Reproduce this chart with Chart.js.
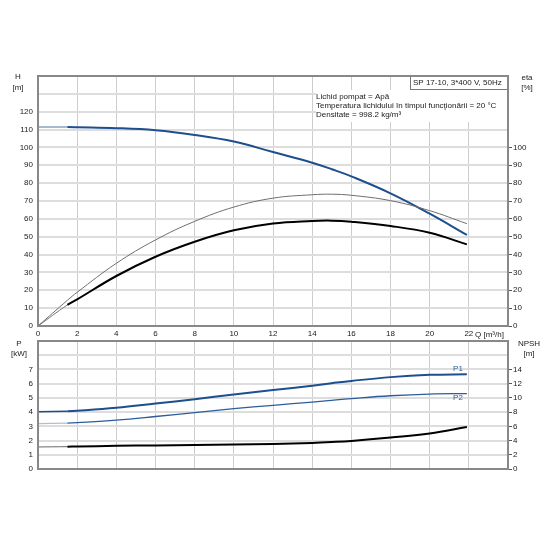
<!DOCTYPE html>
<html><head><meta charset="utf-8">
<script src="https://cdn.jsdelivr.net/npm/chart.js@4.4.1/dist/chart.umd.min.js"></script>
<style>
html,body{margin:0;padding:0;background:#fff;}
#wrap{position:relative;width:553px;height:553px;}
canvas{position:absolute;left:0;top:0;}
</style>
</head><body>
<div id="wrap"><canvas id="c1" width="553" height="553"></canvas><canvas id="c2" width="553" height="553"></canvas></div>
<script>
// ---- data ----
const flow     = [0, 1.5, 2, 4, 6, 8, 10, 12, 14, 15, 16, 18, 20, 21.9];
const head     = [111.5, 111.4, 111.3, 110.8, 109.6, 107.0, 103.3, 97.4, 91.4, 87.8, 83.8, 74.3, 62.9, 51.0];
const etaPump  = [0, 14.4, 18.9, 35.1, 48.2, 58.6, 66.6, 71.6, 73.5, 73.8, 73.2, 70.2, 64.6, 57.3];
const etaTotal = [0, 11.8, 14.9, 28.0, 38.8, 47.2, 53.6, 57.4, 58.8, 59.0, 58.4, 56.0, 52.2, 45.7];
const powerP1  = [4.03, 4.06, 4.09, 4.30, 4.60, 4.91, 5.24, 5.55, 5.86, 6.03, 6.19, 6.46, 6.62, 6.66];
const powerP2  = [3.19, 3.23, 3.26, 3.44, 3.69, 3.96, 4.24, 4.48, 4.70, 4.83, 4.95, 5.15, 5.27, 5.30];
const npsh     = [3.10, 3.14, 3.16, 3.26, 3.32, 3.38, 3.44, 3.52, 3.67, 3.79, 3.95, 4.42, 4.98, 5.90];
const qTickLabels    = [0, 2, 4, 6, 8, 10, 12, 14, 16, 18, 20, 22];
const hTickLabels    = [0, 10, 20, 30, 40, 50, 60, 70, 80, 90, 100, 110, 120];
const etaTickLabels  = [0, 10, 20, 30, 40, 50, 60, 70, 80, 90, 100];
const pTickLabels    = [0, 1, 2, 3, 4, 5, 6, 7];
const npshTickLabels = [0, 2, 4, 6, 8, 10, 12, 14];
const infoLines = ['Lichid pompat = Apă', 'Temperatura lichidului în timpul funcţionării = 20 °C', 'Densitate = 998.2 kg/m³'];
const titleText = 'SP 17-10, 3*400 V, 50Hz';
const qUnit = 'Q [m³/h]';

// ---- styling ----
const FONT = "'Liberation Sans', Arial, sans-serif";
Chart.defaults.font = {family: FONT, size: 8};
Chart.defaults.color = '#1a1a1a';
const BLUE = '#1d4f8c';
const GRID_H = '#dddddd', GRID_V = '#cdcdcd', FRAME = '#888888';

const pts = (ys) => flow.map((x, i) => ({x: x, y: ys[i]}));
const seg = (thinC, thickC, thinW, thickW) => ({
  borderColor: c => c.p0.parsed.x < 1.4 ? thinC : thickC,
  borderWidth: c => c.p0.parsed.x < 1.4 ? thinW : thickW
});
const line = (ys, axis, color, width, thinC, thinW) => ({
  data: pts(ys), yAxisID: axis, borderColor: color, borderWidth: width,
  pointRadius: 0, tension: 0.4, fill: false,
  segment: seg(thinC, color, thinW, width)
});

const frame = {
  id: 'frame',
  afterDraw(chart, args, opts) {
    const {ctx, chartArea: a} = chart;
    ctx.save();
    ctx.strokeStyle = FRAME; ctx.lineWidth = 2;
    ctx.strokeRect(a.left, a.top, a.right - a.left, a.bottom - a.top);
    ctx.font = '8px ' + FONT; ctx.textBaseline = 'middle';
    (opts.texts || []).forEach(t => {
      ctx.textAlign = t.align || 'center';
      ctx.fillStyle = t.color || '#1a1a1a';
      ctx.fillText(t.s, t.x, t.y);
    });
    ctx.restore();
  }
};

const infoBox = {
  id: 'infoBox',
  beforeDatasetsDraw(chart) {
    const {ctx, chartArea: a} = chart;
    ctx.save();
    ctx.fillStyle = '#fff';
    ctx.fillRect(316, 90, a.right - 316, 32);
    ctx.fillRect(410, a.top, a.right - 410, 14);
    ctx.strokeStyle = '#777'; ctx.lineWidth = 1;
    ctx.strokeRect(410.5, a.top + 0.5, a.right - 410.5, 13);
    ctx.fillStyle = '#1a1a1a'; ctx.font = '8px ' + FONT; ctx.textBaseline = 'middle'; ctx.textAlign = 'left';
    ctx.fillText(titleText, 413, 83);
    infoLines.forEach((s, i) => ctx.fillText(s, 316, 97 + i * 9));
    ctx.restore();
  }
};

const showIf = (list) => (v) => list.includes(v) ? String(v) : '';
const tickCol = (list) => (c) => list.includes(c.tick.value) ? '#555' : 'rgba(0,0,0,0)';

new Chart(document.getElementById('c1'), {
  type: 'line',
  data: {datasets: [
    line(etaPump, 'yE', '#6e6e6e', 1, '#6e6e6e', 1),
    line(etaTotal, 'yE', '#000', 2, '#777777', 1),
    line(head, 'yH', BLUE, 2, '#a9b9cf', 2)
  ]},
  options: {
    responsive: false, animation: false, events: [],
    layout: {padding: {top: 76, left: 0, right: 0, bottom: 207}},
    plugins: {legend: {display: false}, tooltip: {enabled: false},
      frame: {texts: [
        {s: 'H', x: 18, y: 77}, {s: '[m]', x: 18, y: 88},
        {s: 'eta', x: 527, y: 78}, {s: '[%]', x: 527, y: 88},
        {s: qUnit, x: 475, y: 335, align: 'left'}
      ]}},
    scales: {
      x: {type: 'linear', min: 0, max: 24,
        ticks: {stepSize: 2, padding: 3, callback: showIf(qTickLabels), maxRotation: 0, autoSkip: false},
        grid: {color: GRID_V, lineWidth: 1, drawTicks: false}, border: {display: false},
        afterFit: s => { s.height = 20; }},
      yH: {type: 'linear', position: 'left', min: 0, max: 140,
        ticks: {stepSize: 10, padding: 5, callback: showIf(hTickLabels), autoSkip: false},
        grid: {color: GRID_H, lineWidth: 2, drawTicks: false}, border: {display: false},
        afterFit: s => { s.width = 38; }},
      yE: {type: 'linear', position: 'right', min: 0, max: 140,
        ticks: {stepSize: 10, padding: 1, callback: showIf(etaTickLabels), autoSkip: false},
        grid: {drawOnChartArea: false, drawTicks: true, tickLength: 4, tickColor: tickCol(etaTickLabels), tickWidth: 1},
        border: {display: false},
        afterFit: s => { s.width = 45; }}
    }
  },
  plugins: [infoBox, frame]
});

new Chart(document.getElementById('c2'), {
  type: 'line',
  data: {datasets: [
    line(npsh, 'yN', '#000', 2, '#666666', 1),
    line(powerP2, 'yP', '#2c5d98', 1.3, '#b3bfd0', 1.3),
    line(powerP1, 'yP', BLUE, 2, BLUE, 1.5)
  ]},
  options: {
    responsive: false, animation: false, events: [],
    layout: {padding: {top: 341, left: 0, right: 0, bottom: 84}},
    plugins: {legend: {display: false}, tooltip: {enabled: false},
      frame: {texts: [
        {s: 'P', x: 19, y: 344}, {s: '[kW]', x: 19, y: 354},
        {s: 'NPSH', x: 529, y: 344}, {s: '[m]', x: 529, y: 354},
        {s: 'P1', x: 458, y: 369, color: '#2c5d98'},
        {s: 'P2', x: 458, y: 398, color: '#2c5d98'}
      ]}},
    scales: {
      x: {type: 'linear', min: 0, max: 24,
        ticks: {stepSize: 2, display: false},
        grid: {color: GRID_V, lineWidth: 1, drawTicks: false}, border: {display: false},
        afterFit: s => { s.height = 0; }},
      yP: {type: 'linear', position: 'left', min: 0, max: 9,
        ticks: {stepSize: 1, padding: 5, callback: showIf(pTickLabels), autoSkip: false},
        grid: {color: GRID_H, lineWidth: 2, drawTicks: false}, border: {display: false},
        afterFit: s => { s.width = 38; }},
      yN: {type: 'linear', position: 'right', min: 0, max: 18,
        ticks: {stepSize: 2, padding: 1, callback: showIf(npshTickLabels), autoSkip: false},
        grid: {drawOnChartArea: false, drawTicks: true, tickLength: 4, tickColor: tickCol(npshTickLabels), tickWidth: 1},
        border: {display: false},
        afterFit: s => { s.width = 45; }}
    }
  },
  plugins: [frame]
});
</script>
</body></html>
